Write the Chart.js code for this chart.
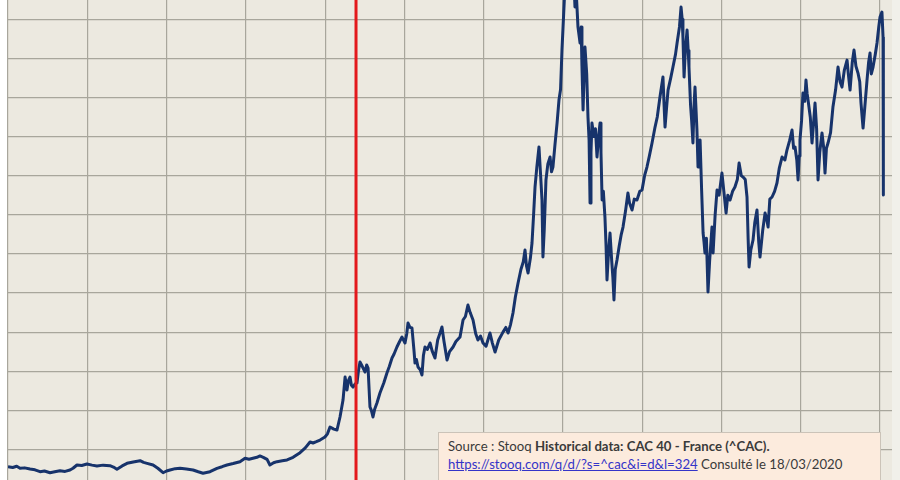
<!DOCTYPE html>
<html lang="fr">
<head>
<meta charset="utf-8">
<title>CAC 40 - historique</title>
<script src="https://cdn.jsdelivr.net/npm/chart.js@4.4.1/dist/chart.umd.min.js"></script>
<style>
    html, body {
        margin: 0;
        padding: 0;
        background: #ffffff;
    }
    #wrap {
        position: relative;
        width: 900px;
        height: 480px;
        overflow: hidden;
    }
    #sourceBox {
        position: absolute;
        left: 438px;
        top: 432px;
        width: 432px;
        height: 60px;
        padding: 4px 0 0 9px;
        background: #fcebdd;
        border: 1px solid #cbc3b8;
        font-family: Lato, "Open Sans", sans-serif;
        font-size: 13.2px;
        line-height: 18px;
        color: #3a3a3a;
        white-space: nowrap;
    }
    #sourceBox a {
        color: #3434c8;
        text-decoration: underline;
    }
</style>
</head>
<body>
<div id="wrap">
    <canvas id="cacChart" width="900" height="480"></canvas>
    <div id="sourceBox">
        Source : Stooq <b>Historical data: CAC 40 - France (^CAC).</b><br>
        <a href="https://stooq.com/q/d/?s=^cac&amp;i=d&amp;l=324">https://stooq.com/q/d/?s=^cac&amp;i=d&amp;l=324</a> Consulté le 18/03/2020
    </div>
</div>
<script>
// Years (decimal) and CAC 40 close
const years = [
    1965.00, 1965.30, 1965.55, 1965.76, 1966.05, 1966.39, 1966.70, 1967.02, 1967.30, 1967.65,
    1967.95, 1968.28, 1968.60, 1968.91, 1969.10, 1969.35, 1969.65, 1969.98, 1970.30, 1970.61,
    1971.00, 1971.43, 1971.65, 1971.87, 1972.20, 1972.51, 1972.90, 1973.33, 1973.55, 1973.77,
    1974.15, 1974.45, 1974.78, 1975.00, 1975.22, 1975.55, 1975.85, 1976.25, 1976.67, 1977.00,
    1977.30, 1977.74, 1978.18, 1978.50, 1978.81, 1979.20, 1979.63, 1979.95, 1980.20, 1980.45,
    1980.70, 1980.89, 1981.10, 1981.34, 1981.52, 1981.75, 1981.97, 1982.30, 1982.60, 1982.98,
    1983.20, 1983.42, 1983.75, 1984.05, 1984.24, 1984.45, 1984.68, 1984.99, 1985.15, 1985.31,
    1985.55, 1985.75, 1985.94, 1986.13, 1986.26, 1986.38, 1986.47, 1986.57, 1986.66, 1986.76,
    1986.90, 1987.01, 1987.10, 1987.20, 1987.35, 1987.52, 1987.62, 1987.71, 1987.83, 1987.92,
    1988.02, 1988.12, 1988.27, 1988.46, 1988.70, 1988.90, 1989.05, 1989.22, 1989.35, 1989.53,
    1989.70, 1989.85, 1990.04, 1990.15, 1990.23, 1990.35, 1990.48, 1990.60, 1990.67, 1990.76,
    1990.86, 1991.00, 1991.11, 1991.20, 1991.30, 1991.45, 1991.62, 1991.75, 1991.93, 1992.10,
    1992.25, 1992.37, 1992.50, 1992.69, 1992.85, 1993.07, 1993.25, 1993.51, 1993.70, 1993.85,
    1994.01, 1994.15, 1994.33, 1994.50, 1994.64, 1994.80, 1994.96, 1995.15, 1995.40, 1995.55,
    1995.72, 1995.95, 1996.22, 1996.40, 1996.54, 1996.70, 1996.85, 1997.00, 1997.17, 1997.35,
    1997.50, 1997.61, 1997.70, 1997.80, 1997.95, 1998.05, 1998.15, 1998.24, 1998.35, 1998.49,
    1998.58, 1998.68, 1998.74, 1998.82, 1998.93, 1999.05, 1999.19, 1999.28, 1999.37, 1999.50,
    1999.63, 1999.75, 1999.85, 1999.94, 2000.10, 2000.30, 2000.60, 2000.76, 2000.85, 2000.95,
    2001.08, 2001.15, 2001.20, 2001.27, 2001.39, 2001.50, 2001.58, 2001.65, 2001.71, 2001.77,
    2001.83, 2001.95, 2002.05, 2002.15, 2002.25, 2002.34, 2002.40, 2002.47, 2002.55, 2002.65,
    2002.72, 2002.78, 2002.87, 2002.97, 2003.08, 2003.15, 2003.22, 2003.30, 2003.41, 2003.55,
    2003.68, 2003.79, 2003.95, 2004.10, 2004.20, 2004.36, 2004.50, 2004.67, 2004.85, 2004.99,
    2005.15, 2005.30, 2005.45, 2005.62, 2005.81, 2005.95, 2006.12, 2006.31, 2006.38, 2006.44,
    2006.55, 2006.63, 2006.80, 2006.94, 2007.10, 2007.20, 2007.35, 2007.45, 2007.52, 2007.57,
    2007.64, 2007.72, 2007.83, 2007.90, 2007.95, 2008.05, 2008.12, 2008.20, 2008.27, 2008.33,
    2008.45, 2008.52, 2008.58, 2008.65, 2008.75, 2008.84, 2008.90, 2008.96, 2009.05, 2009.15,
    2009.25, 2009.40, 2009.47, 2009.60, 2009.72, 2009.85, 2010.03, 2010.15, 2010.29, 2010.40,
    2010.54, 2010.70, 2010.85, 2011.00, 2011.11, 2011.25, 2011.36, 2011.50, 2011.61, 2011.68,
    2011.74, 2011.85, 2011.99, 2012.10, 2012.24, 2012.35, 2012.43, 2012.60, 2012.75, 2012.85,
    2012.94, 2013.05, 2013.19, 2013.35, 2013.50, 2013.65, 2013.82, 2014.00, 2014.13, 2014.30,
    2014.45, 2014.55, 2014.64, 2014.75, 2014.83, 2014.90, 2014.95, 2015.05, 2015.14, 2015.25,
    2015.33, 2015.40, 2015.46, 2015.60, 2015.71, 2015.80, 2015.90, 2016.00, 2016.09, 2016.20,
    2016.34, 2016.45, 2016.53, 2016.62, 2016.72, 2016.88, 2017.03, 2017.20, 2017.35, 2017.48,
    2017.60, 2017.75, 2017.92, 2018.00, 2018.11, 2018.25, 2018.36, 2018.48, 2018.61, 2018.72,
    2018.80, 2018.93, 2019.05, 2019.18, 2019.28, 2019.37, 2019.45, 2019.56, 2019.70, 2019.81,
    2019.92, 2020.00, 2020.12, 2020.19, 2020.21
];
const cacClose = [
    280, 270, 285, 259, 265, 250, 240, 216, 225, 203,
    215, 229, 220, 238, 260, 302, 295, 314, 300, 289,
    300, 293, 275, 247, 290, 323, 340, 357, 335, 323,
    302, 260, 203, 225, 238, 255, 259, 250, 238, 215,
    196, 216, 259, 280, 302, 320, 344, 387, 375, 387,
    400, 417, 400, 374, 302, 330, 344, 355, 366, 400,
    430, 459, 520, 596, 583, 600, 621, 659, 700, 787,
    760, 749, 915, 1132, 1426, 1260, 1380, 1426, 1320, 1298,
    1340, 1350, 1500, 1618, 1560, 1490, 1580, 1541, 1043, 1000,
    915, 1010, 1094, 1222, 1350, 1477, 1560, 1669, 1720, 1810,
    1880, 1937, 1861, 1980, 2116, 2060, 2052, 1780, 1605, 1650,
    1554, 1520, 1452, 1700, 1810, 1780, 1861, 1760, 1669, 1900,
    1990, 2065, 1880, 1643, 1750, 1810, 1880, 1937, 2155, 2200,
    2346, 2250, 2155, 1980, 1899, 1950, 1861, 1820, 1989, 1860,
    1746, 1900, 2000, 2060, 1989, 2100, 2244, 2450, 2628, 2800,
    2900, 3049, 2850, 2755, 2950, 3139, 3500, 3854, 4100, 4366,
    4050, 3688, 2960, 3300, 3944, 4150, 4238, 4050, 4110, 4400,
    4672, 4966, 5100, 5605, 6300, 6700, 6920, 6155, 6300, 5899,
    5695, 5900, 5400, 4839, 5644, 5300, 4749, 4450, 3650, 4300,
    4672, 4500, 4600, 4238, 4500, 4672, 4300, 3688, 3800, 3471,
    3100, 2666, 3000, 3267, 2900, 2700, 2410, 2800, 2921, 3100,
    3250, 3343, 3550, 3778, 3650, 3561, 3700, 3688, 3800, 3816,
    4000, 4110, 4250, 4417, 4621, 4750, 5005, 5260, 4900, 4621,
    4900, 5094, 5250, 5388, 5550, 5695, 5900, 6155, 6000, 5771,
    5260, 5600, 5861, 5600, 5388, 4900, 4700, 4417, 4900, 5132,
    4600, 4110, 4350, 4455, 3800, 3267, 3150, 3011, 3200, 2513,
    2900, 3343, 3011, 3500, 3816, 3750, 4033, 3800, 3522, 3750,
    3688, 3800, 3854, 3950, 4161, 4000, 3982, 3950, 3727, 3200,
    2832, 3050, 3177, 3400, 3561, 3150, 2960, 3300, 3522, 3450,
    3343, 3700, 3727, 3800, 3906, 4100, 4238, 4200, 4327, 4450,
    4583, 4350, 4366, 4200, 3944, 4250, 4455, 4700, 5056, 4950,
    5222, 5050, 4966, 4750, 4417, 4650, 4928, 4600, 3944, 4300,
    4545, 4350, 4033, 4350, 4417, 4550, 4877, 5100, 5388, 5200,
    5132, 5350, 5477, 5300, 5094, 5450, 5605, 5400, 5311, 5200,
    4928, 4608, 4900, 5222, 5450, 5567, 5300, 5388, 5550, 5695,
    5900, 6027, 6091, 5771, 3752
];

// Gridline positions (no labels shown in the crop)
const yearTicks = [1965, 1970, 1975, 1980, 1985, 1990, 1995, 2000, 2005, 2010, 2015, 2020];
const valueTicks = [500, 1000, 1500, 2000, 2500, 3000, 3500, 4000, 4500, 5000, 5500, 6000];

// Visible window of the original chart
const xMin = 1965, xMax = 2020.755;
const yMin = 110, yMax = 6245;

// Red marker: start of the official index
const markerYear = 1986.95;

document.addEventListener('DOMContentLoaded', function() {
    const plotBackground = {
        id: 'plotBackground',
        beforeDraw(chart) {
            const { ctx, chartArea: a, width, height } = chart;
            ctx.save();
            ctx.fillStyle = '#f1f0ea';
            ctx.fillRect(a.right, 0, width - a.right, height);
            ctx.fillStyle = '#ece9e0';
            ctx.fillRect(a.left, a.top, a.right - a.left, a.bottom - a.top);
            ctx.restore();
        }
    };

    const gridOpts = {
        color: '#a8a69c',
        lineWidth: 1.2,
        drawTicks: false
    };

    const ctx = document.getElementById('cacChart').getContext('2d');
    new Chart(ctx, {
        type: 'line',
        data: {
            datasets: [{
                label: 'Base CAC 40',
                data: [{ x: markerYear, y: yMin - 100 }, { x: markerYear, y: yMax + 100 }],
                borderColor: '#e3191c',
                borderWidth: 3,
                pointRadius: 0
            }, {
                label: 'CAC 40',
                data: years.map((yr, i) => ({ x: yr, y: cacClose[i] })),
                borderColor: '#17336b',
                borderWidth: 3,
                pointRadius: 0,
                tension: 0,
                borderJoinStyle: 'round'
            }]
        },
        options: {
            responsive: false,
            animation: false,
            layout: {
                padding: { left: 8, right: 8, top: 0, bottom: 0 }
            },
            plugins: {
                legend: { display: false },
                tooltip: { enabled: false }
            },
            scales: {
                x: {
                    type: 'linear',
                    min: xMin,
                    max: xMax,
                    border: { display: false },
                    grid: gridOpts,
                    ticks: { display: false },
                    afterBuildTicks: axis => { axis.ticks = yearTicks.map(v => ({ value: v })); }
                },
                y: {
                    min: yMin,
                    max: yMax,
                    border: { display: false },
                    grid: gridOpts,
                    ticks: { display: false },
                    afterBuildTicks: axis => { axis.ticks = valueTicks.map(v => ({ value: v })); }
                }
            }
        },
        plugins: [plotBackground]
    });
});
</script>
</body>
</html>
